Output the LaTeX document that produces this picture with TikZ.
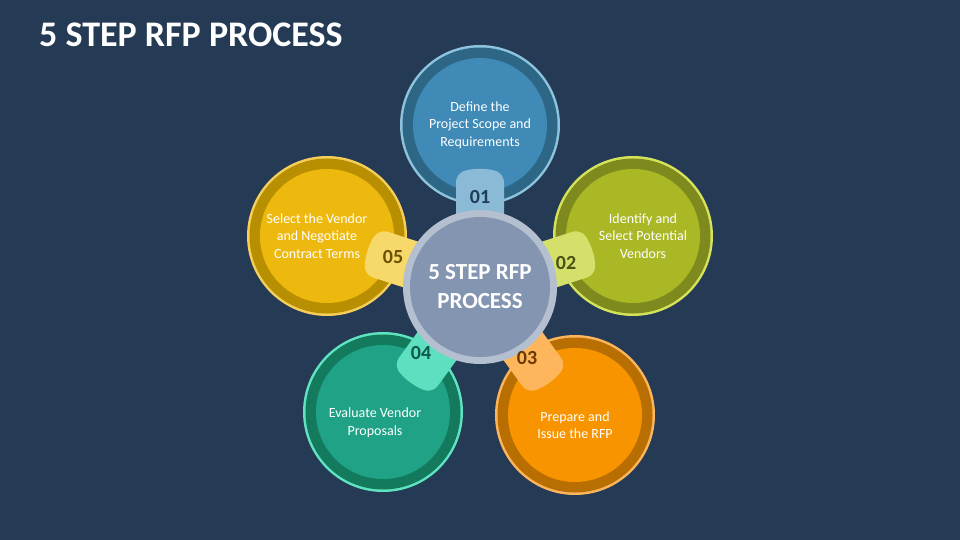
\documentclass[tikz,border=0pt]{standalone}
\usepackage{fontspec}
\setmainfont{Carlito}
\begin{document}
\begin{tikzpicture}[x=1pt,y=1pt,
  stepouter/.style={circle,inner sep=0pt,minimum size=160pt},
  stepring/.style={circle,inner sep=0pt,minimum size=155pt},
  stepinner/.style={circle,inner sep=0pt,minimum size=134pt},
  tablabel/.style={inner sep=0pt,font=\fontsize{20}{20}\selectfont\bfseries},
  txt/.style={inner sep=0pt,text=white,align=center,font=\fontsize{14}{17.5}\selectfont}]
\definecolor{bg}{HTML}{243A55}
\definecolor{aB}{HTML}{8EC3DD}\definecolor{aR}{HTML}{2E6785}\definecolor{aF}{HTML}{3F8AB7}\definecolor{aT}{HTML}{8BBAD6}\definecolor{aN}{HTML}{1F3D55}
\definecolor{bB}{HTML}{D5E35A}\definecolor{bR}{HTML}{7E8A1E}\definecolor{bF}{HTML}{A9B824}\definecolor{bT}{HTML}{D4E06A}\definecolor{bN}{HTML}{4A5214}
\definecolor{cB}{HTML}{FDB55C}\definecolor{cR}{HTML}{B86E00}\definecolor{cF}{HTML}{F79400}\definecolor{cT}{HTML}{FDB65C}\definecolor{cN}{HTML}{6B3A00}
\definecolor{dB}{HTML}{5FE3C0}\definecolor{dR}{HTML}{137A5E}\definecolor{dF}{HTML}{1FA286}\definecolor{dT}{HTML}{5EE0C0}\definecolor{dN}{HTML}{0E5A48}
\definecolor{eB}{HTML}{F5CF5A}\definecolor{eR}{HTML}{B88F00}\definecolor{eF}{HTML}{EEB90E}\definecolor{eT}{HTML}{F7D86A}\definecolor{eN}{HTML}{6B5200}
\definecolor{cenR}{HTML}{B4BFD0}\definecolor{cenF}{HTML}{8395B0}
\fill[bg] (0,0) rectangle (960,-540);
\useasboundingbox (0,0) rectangle (960,-540);
\node[anchor=west,inner sep=0pt,text=white,font=\fontsize{36}{36}\selectfont\bfseries] (title) at (39,-35) {5 STEP RFP PROCESS};
% step circles
\foreach \n/\px/\py/\c in {a/480/125/a, b/633/236/b, c/575/415/c, d/383/412/d, e/327/236/e}{
  \node[stepouter,fill=\c B] (\n o) at (\px,-\py) {};
  \node[stepring,fill=\c R] (\n r) at (\px,-\py) {};
  \node[stepinner,fill=\c F] (\n i) at (\px,-\py) {};
}
% tabs
\coordinate (cen) at (480,-287);
\foreach \ang/\c in {90/a, 18/b, -54/c, -126/d, 162/e}{
  \begin{scope}[shift={(cen)},rotate=\ang]
    \fill[\c T,rounded corners=8pt] (50,-24) -- (113,-24) .. controls (119,-8) and (119,8) .. (113,24) -- (50,24) -- cycle;
  \end{scope}
}
% centre
\node[circle,inner sep=0pt,minimum size=154pt,fill=cenR] (cenring) at (cen) {};
\node[circle,inner sep=0pt,minimum size=140pt,fill=cenF,text=white,align=center,
  font=\fontsize{23}{29}\selectfont\bfseries] (cenin) at (cen) {5 STEP RFP\\PROCESS};
% tab labels
\node[tablabel,text=aN] (la) at (480,-197) {01};
\node[tablabel,text=bN] (lb) at (566,-263) {02};
\node[tablabel,text=cN] (lc) at (527,-358) {03};
\node[tablabel,text=dN] (ld) at (421,-353) {04};
\node[tablabel,text=eN] (le) at (393,-257) {05};
% circle texts
\node[txt] (ta) at (480,-125) {Define the\\Project Scope and\\Requirements};
\node[txt] (tb) at (643,-236) {Identify and\\Select Potential\\Vendors};
\node[txt] (tc) at (575,-425) {Prepare and\\Issue the RFP};
\node[txt] (td) at (375,-423) {Evaluate Vendor\\Proposals};
\node[txt] (te) at (317,-236) {Select the Vendor\\and Negotiate\\Contract Terms};
\end{tikzpicture}
\end{document}
